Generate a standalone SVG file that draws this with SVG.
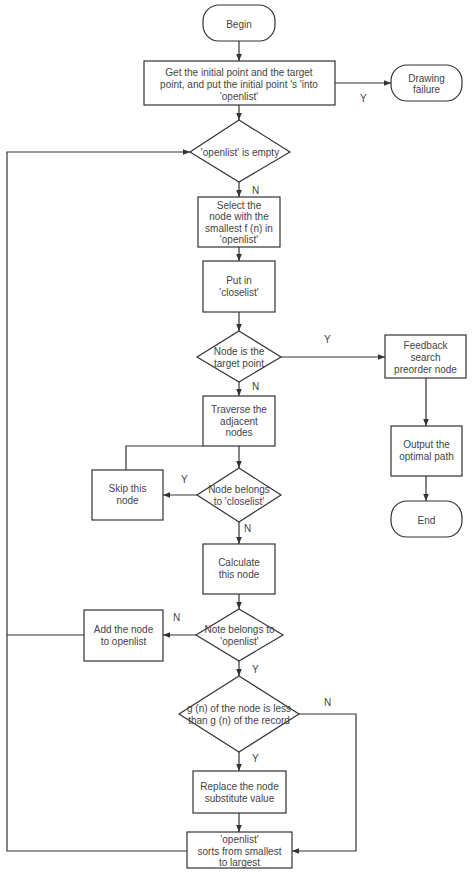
<svg xmlns="http://www.w3.org/2000/svg" width="474" height="875" viewBox="0 0 474 875">
<style>
.n{fill:#fff;stroke:#333;stroke-width:1.2}
.t{font-family:"Liberation Sans",Arial,sans-serif;font-size:10px;fill:#444;text-anchor:middle}
.l{font-family:"Liberation Sans",Arial,sans-serif;font-size:10px;fill:#444}
.c{fill:none;stroke:#333;stroke-width:1.2}
</style>
<defs>
<marker id="a" viewBox="0 0 10 10" refX="10" refY="5" markerWidth="7" markerHeight="7" markerUnits="userSpaceOnUse" orient="auto">
<path d="M0,1 L10,5 L0,9 z" fill="#333"/>
</marker>
</defs>
<rect width="474" height="875" fill="#fff"/>
<g id="connectors">
<path class="c" d="M239,41 V61" marker-end="url(#a)"/>
<path class="c" d="M335,83 H391" marker-end="url(#a)"/>
<path class="c" d="M239,105 V120" marker-end="url(#a)"/>
<path class="c" d="M239,182 V197" marker-end="url(#a)"/>
<path class="c" d="M239,247 V261" marker-end="url(#a)"/>
<path class="c" d="M239,312 V331" marker-end="url(#a)"/>
<path class="c" d="M281,357 H385" marker-end="url(#a)"/>
<path class="c" d="M239,382 V396" marker-end="url(#a)"/>
<path class="c" d="M426,378 V426" marker-end="url(#a)"/>
<path class="c" d="M426,476 V501" marker-end="url(#a)"/>
<path class="c" d="M239,446 V468" marker-end="url(#a)"/>
<path class="c" d="M197,495 H163" marker-end="url(#a)"/>
<path class="c" d="M126,470 V446 H203"/>
<path class="c" d="M239,522 V544" marker-end="url(#a)"/>
<path class="c" d="M239,594 V609" marker-end="url(#a)"/>
<path class="c" d="M196,635 H163" marker-end="url(#a)"/>
<path class="c" d="M84,635 H7"/>
<path class="c" d="M239,661 V676" marker-end="url(#a)"/>
<path class="c" d="M299,714 H356 V851 H292" marker-end="url(#a)"/>
<path class="c" d="M239,752 V771" marker-end="url(#a)"/>
<path class="c" d="M239,813 V832" marker-end="url(#a)"/>
<path class="c" d="M187,851 H7 V152 H190" marker-end="url(#a)"/>
<text class="l" x="360" y="102">Y</text>
<text class="l" x="252" y="194">N</text>
<text class="l" x="324" y="343">Y</text>
<text class="l" x="252" y="390">N</text>
<text class="l" x="181" y="483">Y</text>
<text class="l" x="244" y="532">N</text>
<text class="l" x="173" y="621">N</text>
<text class="l" x="252" y="673">Y</text>
<text class="l" x="324" y="706">N</text>
<text class="l" x="252" y="762">Y</text>
</g>
<g id="begin"><rect class="n" x="203" y="5" width="72" height="36" rx="16"/><text class="t" x="239" y="27.5">Begin</text></g>
<g id="init"><rect class="n" x="144" y="61" width="191" height="44"/><text class="t" x="239" y="75.5">Get the initial point and the target</text><text class="t" x="239" y="87.5">point, and put the initial point 's 'into</text><text class="t" x="239" y="99.5">'openlist'</text></g>
<g id="failure"><rect class="n" x="391" y="65" width="71" height="36" rx="16"/><text class="t" x="426.5" y="81.5">Drawing</text><text class="t" x="426.5" y="93">failure</text></g>
<g id="empty"><polygon class="n" points="239,120 290,152 239,182 190,152"/><text class="t" x="240" y="156">'openlist' is empty</text></g>
<g id="select"><rect class="n" x="198" y="197" width="82" height="50"/><text class="t" x="239" y="208.5">Select the</text><text class="t" x="239" y="220">node with the</text><text class="t" x="239" y="231.5">smallest f (n) in</text><text class="t" x="239" y="243">'openlist'</text></g>
<g id="putin"><rect class="n" x="203" y="261" width="72" height="51"/><text class="t" x="239" y="283.5">Put in</text><text class="t" x="239" y="295.5">'closelist'</text></g>
<g id="target"><polygon class="n" points="239,331 281,357 239,382 197,357"/><text class="t" x="239" y="354.5">Node is the</text><text class="t" x="239" y="366.5">target point</text></g>
<g id="feedback"><rect class="n" x="385" y="335" width="81" height="43"/><text class="t" x="425.5" y="348.5">Feedback</text><text class="t" x="425.5" y="360.5">search</text><text class="t" x="425.5" y="372.5">preorder node</text></g>
<g id="traverse"><rect class="n" x="203" y="396" width="72" height="50"/><text class="t" x="239" y="412.5">Traverse the</text><text class="t" x="239" y="424.5">adjacent</text><text class="t" x="239" y="436">nodes</text></g>
<g id="output"><rect class="n" x="391" y="426" width="71" height="50"/><text class="t" x="426.5" y="447.5">Output the</text><text class="t" x="426.5" y="459.5">optimal path</text></g>
<g id="end"><rect class="n" x="391" y="501" width="71" height="36" rx="16"/><text class="t" x="426.5" y="523.5">End</text></g>
<g id="closelist"><polygon class="n" points="239,468 281,495 239,522 197,495"/><text class="t" x="239" y="492.5">Node belongs</text><text class="t" x="239" y="504.5">to 'closelist'</text></g>
<g id="skip"><rect class="n" x="92" y="470" width="71" height="50"/><text class="t" x="127.5" y="492">Skip this</text><text class="t" x="127.5" y="503.5">node</text></g>
<g id="calc"><rect class="n" x="203" y="544" width="72" height="50"/><text class="t" x="239" y="566">Calculate</text><text class="t" x="239" y="577.5">this node</text></g>
<g id="openlist"><polygon class="n" points="239,609 283,635 239,661 196,635"/><text class="t" x="239.5" y="633">Note belongs to</text><text class="t" x="239.5" y="644.5">'openlist'</text></g>
<g id="add"><rect class="n" x="84" y="610" width="79" height="51"/><text class="t" x="123.5" y="633">Add the node</text><text class="t" x="123.5" y="644.5">to openlist</text></g>
<g id="less"><polygon class="n" points="239,676 299,714 239,752 179,714"/><text class="t" x="239" y="711.5">g (n) of the node is less</text><text class="t" x="239" y="723.5">than g (n) of the record</text></g>
<g id="replace"><rect class="n" x="193" y="771" width="93" height="42"/><text class="t" x="239.5" y="789.5">Replace the node</text><text class="t" x="239.5" y="801.5">substitute value</text></g>
<g id="sort"><rect class="n" x="187" y="832" width="105" height="36"/><text class="t" x="239.5" y="842.5">'openlist'</text><text class="t" x="239.5" y="854.5">sorts from smallest</text><text class="t" x="239.5" y="866">to largest</text></g>
</svg>
